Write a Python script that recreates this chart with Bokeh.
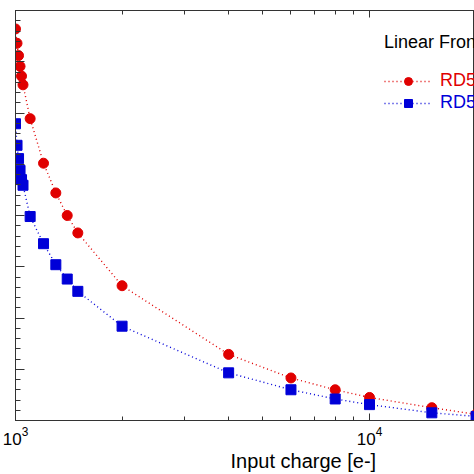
import numpy as np
from bokeh.plotting import figure
from bokeh.models import (Range1d, LogAxis, SingleIntervalTicker, FixedTicker,
                          LogTickFormatter, CustomJSTickFormatter, Legend,
                          LegendItem, Title)
from bokeh.embed import file_html
from bokeh.resources import INLINE

# Input charge [e-] and the two measured series
charge = [1000, 1010, 1020, 1030, 1040, 1050, 1100, 1200, 1300, 1400, 1500,
          2000, 4000, 6000, 8000, 10000, 15000, 20000]
series_a = [7.64, 7.36, 7.12, 6.91, 6.72, 6.55, 5.89, 5.02, 4.44, 4.00, 3.66,
            2.63, 1.29, 0.83, 0.60, 0.45, 0.25, 0.12]
series_b = [5.79, 5.37, 5.11, 4.88, 4.70, 4.59, 3.98, 3.45, 3.04, 2.76, 2.52,
            1.84, 0.93, 0.60, 0.42, 0.31, 0.15, 0.08]
x_major = [1000, 10000]
x_minor = [2000, 3000, 4000, 5000, 6000, 7000, 8000, 9000, 20000]
label_a = "RD53A chip 1"
label_b = "RD53A chip 2"
legend_title = "Linear Front-End"
x_title = "Input charge [e-]"

RED = "#e00000"
BLUE = "#0000d8"
FONT = "Liberation Sans"
AX = "#333333"
blank = CustomJSTickFormatter(code="return ''")

p = figure(width=474, height=474, x_axis_type="log",
           x_range=Range1d(1000, 10 ** 4.2966), y_range=Range1d(0, 8),
           output_backend="svg", toolbar_location=None,
           min_border_left=15, min_border_right=0,
           min_border_top=10, min_border_bottom=54)
p.grid.visible = False
p.outline_line_color = AX
p.background_fill_color = "white"
p.border_fill_color = "white"

# bottom log axis with decade labels
xa = p.xaxis[0]
xa.ticker = FixedTicker(ticks=x_major, minor_ticks=x_minor)
xa.formatter = LogTickFormatter()
xa.major_tick_in = 7
xa.major_tick_out = 0
xa.minor_tick_in = 4
xa.minor_tick_out = 0
xa.axis_line_color = AX
xa.major_tick_line_color = AX
xa.minor_tick_line_color = AX
xa.major_label_text_font = FONT
xa.major_label_text_font_size = "17px"
xa.major_label_text_color = "black"
xa.major_label_standoff = 6

# x axis title, set off to the right of the frame centre
p.add_layout(Title(text=x_title, align="left", offset=215,
                   text_font=FONT, text_font_size="20px",
                   text_font_style="normal", text_color="black",
                   standoff=0), "below")

# left axis, ticks only
ya = p.yaxis[0]
ya.ticker = SingleIntervalTicker(interval=1, num_minor_ticks=5)
ya.formatter = blank
ya.major_tick_in = 9
ya.major_tick_out = 0
ya.minor_tick_in = 5
ya.minor_tick_out = 0
ya.axis_line_color = AX
ya.major_tick_line_color = AX
ya.minor_tick_line_color = AX

# mirrored top axis
top = LogAxis(ticker=FixedTicker(ticks=x_major, minor_ticks=x_minor),
              formatter=blank, major_tick_in=7, major_tick_out=0,
              minor_tick_in=4, minor_tick_out=0, major_label_standoff=0,
              axis_line_color=AX, major_tick_line_color=AX,
              minor_tick_line_color=AX)
p.add_layout(top, "above")

la = p.line(charge, series_a, line_color=RED, line_dash="1 3", line_width=1.4)
sa = p.scatter(charge, series_a, marker="circle", size=10,
               fill_color=RED, line_color=RED)
lb = p.line(charge, series_b, line_color=BLUE, line_dash="1 3", line_width=1.4)
sb = p.scatter(charge, series_b, marker="square", size=10,
               fill_color=BLUE, line_color=BLUE)

common = dict(padding=0, margin=0, spacing=0, glyph_width=48,
              glyph_height=20, label_height=20, label_standoff=8,
              background_fill_alpha=0, border_line_alpha=0,
              label_text_font=FONT, label_text_font_size="18px")

leg_a = Legend(items=[LegendItem(label=label_a, renderers=[la, sa])],
               location=(369, 329), title=legend_title,
               title_text_font=FONT, title_text_font_size="18px",
               title_text_font_style="normal", title_text_color="black",
               title_standoff=17, label_text_color=RED, **common)
leg_b = Legend(items=[LegendItem(label=label_b, renderers=[lb, sb])],
               location=(369, 307), label_text_color=BLUE, **common)
p.add_layout(leg_a)
p.add_layout(leg_b)

open("out.html", "w").write(file_html(p, INLINE))
